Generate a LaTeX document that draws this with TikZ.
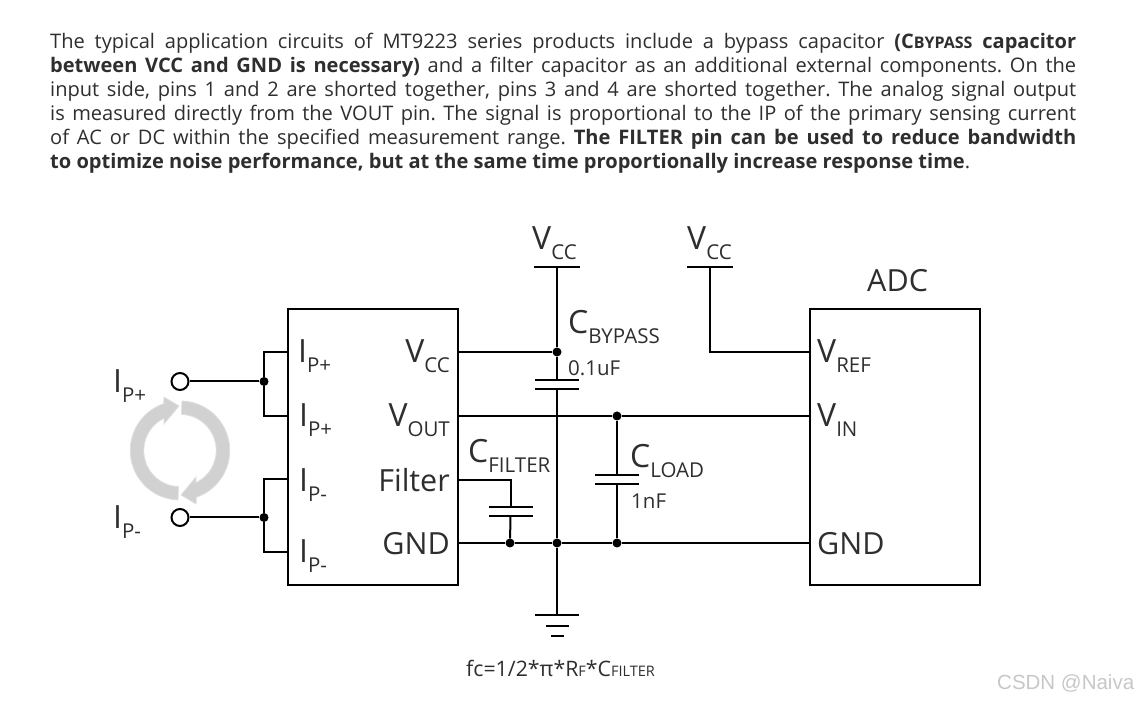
\documentclass[tikz,border=0pt]{standalone}
\usepackage{fontspec}
\setmainfont{Open Sans}
\newfontfamily\wmfont{Liberation Sans}
\definecolor{inktext}{HTML}{2E2E2E}
\newcommand{\pinlab}[2]{{\fontsize{32}{32}\selectfont #1}\raisebox{-10pt}{\fontsize{20.5}{20.5}\selectfont #2}}
\tikzset{
    wire/.style = {line width=2pt},
    chip/.style = {draw, line width=2pt, minimum width=170pt, minimum height=276pt, inner sep=0pt},
    plate/.style = {draw, line width=2pt, minimum width=#1, minimum height=0.1pt, inner sep=0pt, outer sep=0pt},
    dot/.style = {fill, circle, minimum size=9pt, inner sep=0pt},
    term/.style = {draw, circle, line width=2pt, fill=white, minimum size=17pt, inner sep=0pt},
    lab/.style = {anchor=base west, inner sep=0pt, text=inktext},
    labr/.style = {anchor=base east, inner sep=0pt, text=inktext},
    big/.style = {font=\fontsize{30.5}{30.5}\selectfont},
    small/.style = {font=\fontsize{20.5}{20.5}\selectfont},
    ringarrow/.style = {fill=black!18, draw=black!12, line width=0.8pt}
}
\begin{document}
\begin{tikzpicture}[x=1pt, y=1pt]
    \useasboundingbox (0,0) rectangle (1137,703);

    \node[anchor=north west, inner sep=0pt, text width=1026pt, align=justify, text=inktext,
          font=\fontsize{20.05}{24}\selectfont\frenchspacing] (para) at (50,670.5) {%
        The typical application circuits of MT9223 series products include a bypass capacitor \textbf{(C{\fontsize{16}{24}\selectfont BYPASS} capacitor}\linebreak
        \textbf{between VCC and GND is necessary)} and a filter capacitor as an additional external components. On the\linebreak
        input side, pins 1 and 2 are shorted together, pins 3 and 4 are shorted together. The analog signal output\linebreak
        is measured directly from the VOUT pin. The signal is proportional to the IP of the primary sensing current\linebreak
        of AC or DC within the specified measurement range. \textbf{The FILTER pin can be used to reduce bandwidth}\linebreak
        \textbf{to optimize noise performance, but at the same time proportionally increase response time}.\par};

    % boxes
    \node[chip] (ic) at (373,256) {};
    \node[chip] (adc) at (895,256) {};

    % pins on the boxes
    \coordinate (pin1) at (288,351);
    \coordinate (pin2) at (288,287);
    \coordinate (pin3) at (288,224);
    \coordinate (pin4) at (288,151);
    \coordinate (pinVcc) at (458,351);
    \coordinate (pinOut) at (458,287);
    \coordinate (pinFil) at (458,223);
    \coordinate (pinGnd) at (458,160);
    \coordinate (pinRef) at (810,351);
    \coordinate (pinIn) at (810,287);
    \coordinate (pinAgnd) at (810,160);

    % terminals and junctions
    \node[term] (tPlus) at (180,321.5) {};
    \node[term] (tMinus) at (180,185.5) {};
    \node[dot] (jPlus) at (264,321.5) {};
    \node[dot] (jMinus) at (264,185.5) {};
    \node[dot] (jVcc) at (557,351) {};
    \node[dot] (jOut) at (617,287) {};
    \node[dot] (jFil) at (510,160) {};
    \node[dot] (jGnd) at (557,160) {};
    \node[dot] (jLoad) at (617,160) {};

    % rails and capacitor plates
    \node[plate=44pt] (vccA) at (557,436) {};
    \node[plate=44pt] (vccB) at (710,436) {};
    \node[plate=42pt] (cbA) at (557,323) {};
    \node[plate=42pt] (cbB) at (557,314) {};
    \node[plate=42pt] (clA) at (617,228) {};
    \node[plate=42pt] (clB) at (617,219) {};
    \node[plate=42pt] (cfA) at (510.5,196) {};
    \node[plate=42pt] (cfB) at (510.5,187) {};
    \node[plate=42pt] (gndA) at (557,88) {};
    \node[plate=21pt] (gndB) at (557,77) {};
    \node[plate=11pt] (gndC) at (557,67) {};

    \draw[wire] (tPlus) -- (jPlus);
    \draw[wire] (tMinus) -- (jMinus);
    \draw[wire] (pin1) -| (jPlus) |- (pin2);
    \draw[wire] (pin3) -| (jMinus) |- (pin4);
    \draw[wire] (pinVcc) -- (jVcc);
    \draw[wire] (vccA) -- (jVcc);
    \draw[wire] (jVcc) -- (cbA);
    \draw[wire] (cbB) -- (jGnd);
    \draw[wire] (jGnd) -- (gndA);
    \draw[wire] (pinOut) -- (jOut) -- (pinIn);
    \draw[wire] (jOut) -- (clA);
    \draw[wire] (clB) -- (jLoad);
    \draw[wire] (pinFil) -| (cfA);
    \draw[wire] (cfB) -- (jFil);
    \draw[wire] (pinGnd) -- (jFil) -- (jGnd) -- (jLoad) -- (pinAgnd);
    \draw[wire] (vccB) |- (pinRef);

    % current arrows
    \foreach \ang in {0,180}
        \path[ringarrow, rotate around={\ang:(180,252.5)}] (178,203) arc[start angle=268, end angle=109, radius=49.5]
            -- (164,306) -- (179,297) -- (164,279) -- (164,284.7)
            arc[start angle=116, end angle=268, radius=36] -- cycle;

    % labels
    \node[lab] (lVccA) at (532,453) {\pinlab{V}{CC}};
    \node[lab] (lVccB) at (687,453) {\pinlab{V}{CC}};
    \node[lab, big] (lAdc) at (867,411) {ADC};
    \node[lab] (lPlus) at (113,310) {\pinlab{I}{P+}};
    \node[lab] (lMinus) at (113,174) {\pinlab{I}{P-}};
    \node[lab] (l1) at (298,340) {\pinlab{I}{P+}};
    \node[lab] (l2) at (299,276) {\pinlab{I}{P+}};
    \node[lab] (l3) at (299,211) {\pinlab{I}{P-}};
    \node[lab] (l4) at (299,140) {\pinlab{I}{P-}};
    \node[labr] (lVcc) at (450,340) {\pinlab{V}{CC}};
    \node[labr] (lOut) at (450,276) {\pinlab{V}{OUT}};
    \node[labr, big] (lFil) at (450,211) {Filter};
    \node[labr, big] (lGnd) at (450,148) {GND};
    \node[lab] (lRef) at (817,340) {\pinlab{V}{REF}};
    \node[lab] (lIn) at (817,276) {\pinlab{V}{IN}};
    \node[lab, big] (lAgnd) at (817,148) {GND};
    \node[lab] (lCb) at (568,369) {\pinlab{C}{BYPASS}};
    \node[lab, small] (lCbv) at (568,327) {0.1uF};
    \node[lab] (lCf) at (468,240) {\pinlab{C}{FILTER}};
    \node[lab] (lCl) at (630,235) {\pinlab{C}{LOAD}};
    \node[lab, small] (lClv) at (631,194) {1nF};
    \node[lab] (lEq) at (466,26) {\fontsize{21.3}{21.3}\selectfont fc=1/2*π*R{\fontsize{14.5}{14.5}\selectfont F}*C{\fontsize{14.5}{14.5}\selectfont FILTER}};
    \node[anchor=base west, inner sep=0pt, text=black!22, font=\wmfont\fontsize{20.5}{20.5}\selectfont] (lMark) at (997,13) {CSDN @Naiva};
\end{tikzpicture}
\end{document}
